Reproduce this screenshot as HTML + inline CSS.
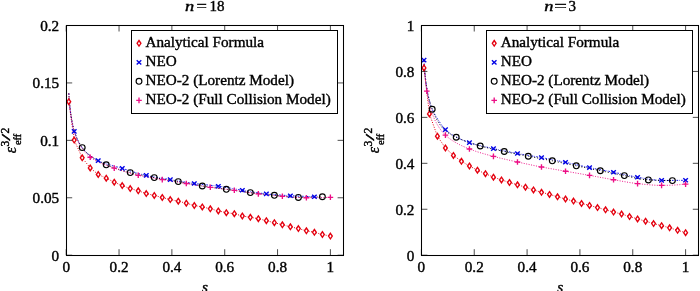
<!DOCTYPE html>
<html><head><meta charset="utf-8"><title>plot</title>
<style>html,body{margin:0;padding:0;background:#fff;}svg{display:block;}text{stroke:#000;stroke-width:.4px;}</style>
</head><body>
<svg width="700" height="291" viewBox="0 0 700 291" font-family="'Liberation Serif','Times New Roman',serif" fill="#000">
<rect width="700" height="291" fill="#fff"/>
<polyline points="68.79,101.7 74.21,140.1 82.21,157.8 90.22,167.9 98.22,174.5 106.23,178.2 114.24,182.2 122.24,185.6 130.25,188.6 138.25,190.8 146.26,193.6 154.27,195.4 162.27,197.5 170.28,199.6 178.28,201.2 186.29,203.2 194.3,205.5 202.3,206.9 210.31,208.8 218.32,210.9 226.32,212.7 234.33,213.7 242.33,216 250.34,217.3 258.35,218.7 266.35,220.7 274.36,222.7 282.36,224.8 290.37,226.8 298.38,228.6 306.38,230.8 314.39,232.3 322.39,234.5 330.4,236.1" fill="none" stroke="#e4000f" stroke-width="1.0" stroke-dasharray="1 1.5"/>
<polyline points="68.79,93.4 68.85,94.3 68.91,95.2 68.97,96.09 69.04,96.98 69.1,97.86 69.17,98.74 69.24,99.62 69.31,100.49 69.38,101.36 69.46,102.22 69.53,103.08 69.61,103.93 69.69,104.78 69.77,105.63 69.85,106.47 69.94,107.3 70.02,108.13 70.11,108.95 70.2,109.77 70.3,110.59 70.39,111.39 70.49,112.19 70.59,112.99 70.69,113.78 70.79,114.56 70.9,115.34 71.01,116.11 71.12,116.87 71.23,117.63 71.35,118.38 71.47,119.13 71.59,119.87 71.72,120.6 71.85,121.32 71.98,122.04 72.11,122.75 72.25,123.45 72.39,124.14 72.53,124.83 72.68,125.51 72.83,126.18 72.98,126.85 73.14,127.5 73.3,128.15 73.47,128.79 73.63,129.42 73.81,130.04 73.98,130.65 74.16,131.26 74.35,131.86 74.54,132.45 74.73,133.04 74.93,133.63 75.13,134.21 75.34,134.79 75.55,135.36 75.77,135.93 75.99,136.5 76.22,137.06 76.45,137.61 76.69,138.17 76.93,138.72 77.18,139.26 77.43,139.81 77.69,140.34 77.96,140.88 78.23,141.41 78.51,141.94 78.8,142.46 79.09,142.98 79.39,143.49 79.69,144 80.01,144.51 80.33,145.02 80.65,145.51 80.99,146.01 81.33,146.5 81.68,146.99 82.04,147.48 82.41,147.96 82.79,148.44 83.17,148.91 83.56,149.38 83.97,149.85 84.38,150.31 84.8,150.77 85.23,151.22 85.67,151.67 86.13,152.12 86.59,152.57 87.06,153.01 87.54,153.44 88.04,153.88 88.55,154.31 89.06,154.74 89.59,155.16 90.14,155.58 90.69,155.99 91.26,156.41 91.84,156.82 92.44,157.22 93.05,157.62 93.67,158.02 94.3,158.42 94.96,158.81 95.62,159.2 96.31,159.58 97,159.96 97.72,160.34 98.45,160.71 99.2,161.08 99.96,161.43 100.75,161.77 101.55,162.1 102.37,162.42 103.21,162.73 104.06,163.04 104.94,163.34 105.84,163.64 106.76,163.93 107.7,164.22 108.66,164.52 109.65,164.81 110.66,165.1 111.69,165.4 112.74,165.7 113.82,166 114.93,166.31 116.06,166.63 117.21,166.95 118.4,167.29 119.61,167.63 120.85,167.99 122.11,168.36 123.41,168.75 124.74,169.16 126.1,169.59 127.48,170.03 128.91,170.49 130.36,170.96 131.85,171.43 133.37,171.91 134.93,172.39 136.52,172.87 138.15,173.34 139.82,173.81 141.53,174.27 143.28,174.71 145.07,175.13 146.89,175.54 148.77,175.93 150.68,176.3 152.64,176.67 154.65,177.02 156.7,177.37 158.8,177.73 160.94,178.08 163.14,178.43 165.39,178.8 167.69,179.17 170.04,179.56 172.45,179.97 174.92,180.39 177.44,180.83 180.02,181.28 182.66,181.72 185.36,182.17 188.12,182.61 190.95,183.03 193.84,183.44 196.8,183.82 199.83,184.16 202.93,184.49 206.1,184.82 209.35,185.15 212.67,185.51 216.07,185.91 219.54,186.37 223.1,186.9 226.74,187.51 230.46,188.16 234.27,188.83 238.17,189.51 242.16,190.17 246.24,190.85 250.42,191.57 254.69,192.29 259.06,192.98 263.53,193.58 268.11,194.07 272.79,194.5 277.59,194.89 282.49,195.23 287.5,195.54 292.64,195.82 297.89,196.08 303.26,196.31 308.76,196.52 314.39,196.7" fill="none" stroke="#0000e6" stroke-width="0.95" stroke-dasharray="1.6 1.2 0.6 1.2"/>
<polyline points="68.79,93.4 68.85,94.25 68.91,95.1 68.97,95.95 69.04,96.79 69.11,97.62 69.17,98.46 69.24,99.28 69.31,100.11 69.39,100.93 69.46,101.74 69.54,102.55 69.62,103.36 69.7,104.16 69.78,104.96 69.86,105.75 69.95,106.54 70.03,107.32 70.12,108.1 70.21,108.88 70.31,109.65 70.4,110.42 70.5,111.18 70.6,111.94 70.71,112.7 70.81,113.45 70.92,114.2 71.03,114.94 71.14,115.68 71.26,116.41 71.38,117.14 71.5,117.86 71.62,118.58 71.75,119.3 71.88,120.01 72.01,120.72 72.14,121.42 72.28,122.12 72.43,122.82 72.57,123.51 72.72,124.2 72.87,124.88 73.03,125.56 73.19,126.23 73.35,126.9 73.52,127.56 73.69,128.23 73.86,128.88 74.04,129.53 74.23,130.18 74.41,130.83 74.61,131.47 74.8,132.1 75,132.73 75.21,133.36 75.42,133.98 75.63,134.6 75.85,135.21 76.08,135.82 76.31,136.43 76.55,137.03 76.79,137.63 77.04,138.22 77.29,138.81 77.55,139.39 77.81,139.97 78.08,140.55 78.36,141.12 78.65,141.69 78.94,142.25 79.23,142.81 79.54,143.36 79.85,143.91 80.17,144.46 80.49,145 80.83,145.54 81.17,146.07 81.52,146.6 81.88,147.12 82.24,147.64 82.62,148.16 83,148.67 83.39,149.17 83.8,149.66 84.21,150.15 84.63,150.63 85.06,151.11 85.5,151.58 85.95,152.04 86.41,152.5 86.88,152.96 87.37,153.41 87.86,153.86 88.37,154.3 88.88,154.74 89.41,155.17 89.96,155.6 90.51,156.03 91.08,156.45 91.66,156.87 92.25,157.29 92.86,157.7 93.49,158.11 94.12,158.52 94.77,158.93 95.44,159.34 96.13,159.74 96.82,160.15 97.54,160.55 98.27,160.95 99.02,161.35 99.79,161.75 100.57,162.15 101.37,162.55 102.2,162.95 103.04,163.35 103.9,163.75 104.78,164.15 105.68,164.56 106.6,164.96 107.54,165.36 108.51,165.76 109.5,166.16 110.51,166.55 111.55,166.94 112.6,167.33 113.69,167.72 114.8,168.1 115.93,168.48 117.09,168.87 118.28,169.25 119.5,169.62 120.74,170 122.02,170.38 123.32,170.75 124.66,171.13 126.02,171.5 127.42,171.87 128.85,172.24 130.31,172.62 131.81,172.99 133.34,173.35 134.91,173.71 136.51,174.08 138.16,174.43 139.84,174.79 141.56,175.15 143.32,175.51 145.12,175.87 146.96,176.23 148.85,176.59 150.78,176.95 152.75,177.32 154.78,177.69 156.85,178.06 158.96,178.42 161.13,178.79 163.35,179.15 165.62,179.52 167.94,179.89 170.31,180.27 172.75,180.67 175.23,181.08 177.78,181.51 180.39,181.97 183.05,182.47 185.78,182.99 188.58,183.53 191.44,184.08 194.36,184.63 197.35,185.17 200.42,185.7 203.55,186.19 206.76,186.67 210.04,187.13 213.4,187.58 216.84,188.04 220.36,188.5 223.96,188.98 227.65,189.48 231.42,190.01 235.28,190.56 239.22,191.12 243.27,191.68 247.4,192.23 251.63,192.76 255.96,193.28 260.4,193.8 264.93,194.31 269.57,194.81 274.32,195.3 279.19,195.83 284.16,196.42 289.25,196.95 294.46,197.31 299.79,197.4 305.25,197.37 310.83,197.27 316.55,197.06 322.39,196.7" fill="none" stroke="#000" stroke-width="0.95" stroke-dasharray="1.1 1.9"/>
<polyline points="68.79,93.6 68.85,94.49 68.91,95.37 68.98,96.25 69.04,97.12 69.11,97.99 69.18,98.86 69.25,99.72 69.32,100.57 69.39,101.42 69.47,102.26 69.54,103.1 69.62,103.93 69.7,104.76 69.78,105.59 69.87,106.41 69.96,107.22 70.04,108.03 70.13,108.84 70.23,109.64 70.32,110.43 70.42,111.22 70.52,112.01 70.62,112.79 70.72,113.56 70.83,114.33 70.94,115.1 71.05,115.86 71.16,116.62 71.28,117.37 71.4,118.12 71.52,118.86 71.65,119.6 71.78,120.33 71.91,121.06 72.04,121.78 72.18,122.5 72.32,123.21 72.46,123.92 72.61,124.62 72.76,125.32 72.91,126.02 73.07,126.71 73.23,127.4 73.4,128.08 73.57,128.75 73.74,129.42 73.92,130.09 74.1,130.75 74.29,131.41 74.48,132.07 74.67,132.71 74.87,133.36 75.07,134 75.28,134.63 75.5,135.26 75.72,135.89 75.94,136.51 76.17,137.13 76.4,137.74 76.64,138.35 76.89,138.95 77.14,139.55 77.4,140.14 77.66,140.73 77.93,141.32 78.21,141.9 78.49,142.47 78.78,143.05 79.07,143.61 79.38,144.18 79.69,144.73 80,145.29 80.33,145.84 80.66,146.38 81,146.92 81.35,147.46 81.7,147.99 82.07,148.52 82.44,149.04 82.82,149.56 83.21,150.08 83.61,150.59 84.02,151.09 84.44,151.59 84.87,152.09 85.31,152.58 85.76,153.07 86.22,153.55 86.69,154.03 87.17,154.51 87.67,154.98 88.17,155.45 88.69,155.91 89.22,156.37 89.76,156.82 90.31,157.27 90.88,157.71 91.46,158.14 92.05,158.56 92.66,158.97 93.28,159.36 93.92,159.75 94.57,160.13 95.24,160.5 95.92,160.87 96.62,161.23 97.34,161.58 98.07,161.93 98.82,162.27 99.58,162.62 100.37,162.96 101.17,163.29 101.99,163.63 102.84,163.97 103.7,164.3 104.58,164.64 105.48,164.98 106.41,165.32 107.35,165.67 108.32,166.02 109.31,166.37 110.32,166.73 111.36,167.09 112.42,167.47 113.51,167.85 114.62,168.23 115.76,168.63 116.93,169.04 118.12,169.45 119.34,169.87 120.59,170.29 121.87,170.71 123.18,171.14 124.52,171.57 125.89,172 127.29,172.42 128.73,172.85 130.2,173.27 131.7,173.68 133.25,174.09 134.82,174.49 136.44,174.88 138.09,175.26 139.78,175.63 141.51,175.99 143.28,176.34 145.09,176.68 146.95,177.02 148.84,177.35 150.79,177.69 152.78,178.02 154.81,178.36 156.9,178.71 159.03,179.06 161.21,179.42 163.45,179.8 165.73,180.18 168.07,180.56 170.47,180.96 172.92,181.36 175.43,181.76 178,182.18 180.63,182.6 183.32,183.03 186.07,183.47 188.89,183.92 191.78,184.39 194.73,184.88 197.75,185.38 200.85,185.88 204.01,186.37 207.25,186.86 210.57,187.34 213.97,187.79 217.44,188.22 221,188.65 224.64,189.08 228.36,189.53 232.18,190.02 236.08,190.54 240.07,191.15 244.16,191.81 248.35,192.48 252.63,193.13 257.01,193.74 261.5,194.27 266.09,194.79 270.8,195.29 275.61,195.74 280.53,196.16 285.57,196.55 290.73,196.96 296.01,197.34 301.41,197.61 306.94,197.7 312.61,197.69 318.4,197.65 324.33,197.53 330.4,197.3" fill="none" stroke="#ec0f86" stroke-width="0.95" stroke-dasharray="1 1.5"/>
<path d="M68.79 98.9L70.69 101.7L68.79 104.5L66.89 101.7Z" fill="#fff" stroke="#e4000f" stroke-width="1.35"/>
<path d="M74.21 137.3L76.11 140.1L74.21 142.9L72.31 140.1Z" fill="#fff" stroke="#e4000f" stroke-width="1.35"/>
<path d="M82.21 155L84.11 157.8L82.21 160.6L80.31 157.8Z" fill="#fff" stroke="#e4000f" stroke-width="1.35"/>
<path d="M90.22 165.1L92.12 167.9L90.22 170.7L88.32 167.9Z" fill="#fff" stroke="#e4000f" stroke-width="1.35"/>
<path d="M98.22 171.7L100.12 174.5L98.22 177.3L96.32 174.5Z" fill="#fff" stroke="#e4000f" stroke-width="1.35"/>
<path d="M106.23 175.4L108.13 178.2L106.23 181L104.33 178.2Z" fill="#fff" stroke="#e4000f" stroke-width="1.35"/>
<path d="M114.24 179.4L116.14 182.2L114.24 185L112.34 182.2Z" fill="#fff" stroke="#e4000f" stroke-width="1.35"/>
<path d="M122.24 182.8L124.14 185.6L122.24 188.4L120.34 185.6Z" fill="#fff" stroke="#e4000f" stroke-width="1.35"/>
<path d="M130.25 185.8L132.15 188.6L130.25 191.4L128.35 188.6Z" fill="#fff" stroke="#e4000f" stroke-width="1.35"/>
<path d="M138.25 188L140.15 190.8L138.25 193.6L136.35 190.8Z" fill="#fff" stroke="#e4000f" stroke-width="1.35"/>
<path d="M146.26 190.8L148.16 193.6L146.26 196.4L144.36 193.6Z" fill="#fff" stroke="#e4000f" stroke-width="1.35"/>
<path d="M154.27 192.6L156.17 195.4L154.27 198.2L152.37 195.4Z" fill="#fff" stroke="#e4000f" stroke-width="1.35"/>
<path d="M162.27 194.7L164.17 197.5L162.27 200.3L160.37 197.5Z" fill="#fff" stroke="#e4000f" stroke-width="1.35"/>
<path d="M170.28 196.8L172.18 199.6L170.28 202.4L168.38 199.6Z" fill="#fff" stroke="#e4000f" stroke-width="1.35"/>
<path d="M178.28 198.4L180.18 201.2L178.28 204L176.38 201.2Z" fill="#fff" stroke="#e4000f" stroke-width="1.35"/>
<path d="M186.29 200.4L188.19 203.2L186.29 206L184.39 203.2Z" fill="#fff" stroke="#e4000f" stroke-width="1.35"/>
<path d="M194.3 202.7L196.2 205.5L194.3 208.3L192.4 205.5Z" fill="#fff" stroke="#e4000f" stroke-width="1.35"/>
<path d="M202.3 204.1L204.2 206.9L202.3 209.7L200.4 206.9Z" fill="#fff" stroke="#e4000f" stroke-width="1.35"/>
<path d="M210.31 206L212.21 208.8L210.31 211.6L208.41 208.8Z" fill="#fff" stroke="#e4000f" stroke-width="1.35"/>
<path d="M218.32 208.1L220.22 210.9L218.32 213.7L216.42 210.9Z" fill="#fff" stroke="#e4000f" stroke-width="1.35"/>
<path d="M226.32 209.9L228.22 212.7L226.32 215.5L224.42 212.7Z" fill="#fff" stroke="#e4000f" stroke-width="1.35"/>
<path d="M234.33 210.9L236.23 213.7L234.33 216.5L232.43 213.7Z" fill="#fff" stroke="#e4000f" stroke-width="1.35"/>
<path d="M242.33 213.2L244.23 216L242.33 218.8L240.43 216Z" fill="#fff" stroke="#e4000f" stroke-width="1.35"/>
<path d="M250.34 214.5L252.24 217.3L250.34 220.1L248.44 217.3Z" fill="#fff" stroke="#e4000f" stroke-width="1.35"/>
<path d="M258.35 215.9L260.25 218.7L258.35 221.5L256.45 218.7Z" fill="#fff" stroke="#e4000f" stroke-width="1.35"/>
<path d="M266.35 217.9L268.25 220.7L266.35 223.5L264.45 220.7Z" fill="#fff" stroke="#e4000f" stroke-width="1.35"/>
<path d="M274.36 219.9L276.26 222.7L274.36 225.5L272.46 222.7Z" fill="#fff" stroke="#e4000f" stroke-width="1.35"/>
<path d="M282.36 222L284.26 224.8L282.36 227.6L280.46 224.8Z" fill="#fff" stroke="#e4000f" stroke-width="1.35"/>
<path d="M290.37 224L292.27 226.8L290.37 229.6L288.47 226.8Z" fill="#fff" stroke="#e4000f" stroke-width="1.35"/>
<path d="M298.38 225.8L300.28 228.6L298.38 231.4L296.48 228.6Z" fill="#fff" stroke="#e4000f" stroke-width="1.35"/>
<path d="M306.38 228L308.28 230.8L306.38 233.6L304.48 230.8Z" fill="#fff" stroke="#e4000f" stroke-width="1.35"/>
<path d="M314.39 229.5L316.29 232.3L314.39 235.1L312.49 232.3Z" fill="#fff" stroke="#e4000f" stroke-width="1.35"/>
<path d="M322.39 231.7L324.29 234.5L322.39 237.3L320.49 234.5Z" fill="#fff" stroke="#e4000f" stroke-width="1.35"/>
<path d="M330.4 233.3L332.3 236.1L330.4 238.9L328.5 236.1Z" fill="#fff" stroke="#e4000f" stroke-width="1.35"/>
<path d="M71.91 129.35L76.51 133.45M71.91 133.45L76.51 129.35" stroke="#0000e6" stroke-width="1.4" fill="none"/>
<path d="M95.92 158.55L100.52 162.65M95.92 162.65L100.52 158.55" stroke="#0000e6" stroke-width="1.4" fill="none"/>
<path d="M119.94 166.35L124.54 170.45M119.94 170.45L124.54 166.35" stroke="#0000e6" stroke-width="1.4" fill="none"/>
<path d="M143.96 173.35L148.56 177.45M143.96 177.45L148.56 173.35" stroke="#0000e6" stroke-width="1.4" fill="none"/>
<path d="M167.98 177.55L172.58 181.65M167.98 181.65L172.58 177.55" stroke="#0000e6" stroke-width="1.4" fill="none"/>
<path d="M192 181.45L196.6 185.55M192 185.55L196.6 181.45" stroke="#0000e6" stroke-width="1.4" fill="none"/>
<path d="M216.02 184.15L220.62 188.25M216.02 188.25L220.62 184.15" stroke="#0000e6" stroke-width="1.4" fill="none"/>
<path d="M240.03 188.15L244.63 192.25M240.03 192.25L244.63 188.15" stroke="#0000e6" stroke-width="1.4" fill="none"/>
<path d="M264.05 191.85L268.65 195.95M264.05 195.95L268.65 191.85" stroke="#0000e6" stroke-width="1.4" fill="none"/>
<path d="M288.07 193.65L292.67 197.75M288.07 197.75L292.67 193.65" stroke="#0000e6" stroke-width="1.4" fill="none"/>
<path d="M312.09 194.65L316.69 198.75M312.09 198.75L316.69 194.65" stroke="#0000e6" stroke-width="1.4" fill="none"/>
<circle cx="82.21" cy="147.6" r="2.9" fill="none" stroke="#000" stroke-width="1.15"/>
<circle cx="106.23" cy="164.8" r="2.9" fill="none" stroke="#000" stroke-width="1.15"/>
<circle cx="130.25" cy="172.6" r="2.9" fill="none" stroke="#000" stroke-width="1.15"/>
<circle cx="154.27" cy="177.6" r="2.9" fill="none" stroke="#000" stroke-width="1.15"/>
<circle cx="178.28" cy="181.6" r="2.9" fill="none" stroke="#000" stroke-width="1.15"/>
<circle cx="202.3" cy="186" r="2.9" fill="none" stroke="#000" stroke-width="1.15"/>
<circle cx="226.32" cy="189.3" r="2.9" fill="none" stroke="#000" stroke-width="1.15"/>
<circle cx="250.34" cy="192.6" r="2.9" fill="none" stroke="#000" stroke-width="1.15"/>
<circle cx="274.36" cy="195.3" r="2.9" fill="none" stroke="#000" stroke-width="1.15"/>
<circle cx="298.38" cy="197.4" r="2.9" fill="none" stroke="#000" stroke-width="1.15"/>
<circle cx="322.39" cy="196.7" r="2.9" fill="none" stroke="#000" stroke-width="1.15"/>
<path d="M87.42 157.2L93.02 157.2M90.22 154.4L90.22 160" stroke="#ec0f86" stroke-width="1.35" fill="none"/>
<path d="M111.44 168.1L117.04 168.1M114.24 165.3L114.24 170.9" stroke="#ec0f86" stroke-width="1.35" fill="none"/>
<path d="M135.45 175.3L141.05 175.3M138.25 172.5L138.25 178.1" stroke="#ec0f86" stroke-width="1.35" fill="none"/>
<path d="M159.47 179.6L165.07 179.6M162.27 176.8L162.27 182.4" stroke="#ec0f86" stroke-width="1.35" fill="none"/>
<path d="M183.49 183.5L189.09 183.5M186.29 180.7L186.29 186.3" stroke="#ec0f86" stroke-width="1.35" fill="none"/>
<path d="M207.51 187.3L213.11 187.3M210.31 184.5L210.31 190.1" stroke="#ec0f86" stroke-width="1.35" fill="none"/>
<path d="M231.53 190.3L237.13 190.3M234.33 187.5L234.33 193.1" stroke="#ec0f86" stroke-width="1.35" fill="none"/>
<path d="M255.55 193.9L261.15 193.9M258.35 191.1L258.35 196.7" stroke="#ec0f86" stroke-width="1.35" fill="none"/>
<path d="M279.56 196.3L285.16 196.3M282.36 193.5L282.36 199.1" stroke="#ec0f86" stroke-width="1.35" fill="none"/>
<path d="M303.58 197.7L309.18 197.7M306.38 194.9L306.38 200.5" stroke="#ec0f86" stroke-width="1.35" fill="none"/>
<path d="M327.6 197.3L333.2 197.3M330.4 194.5L330.4 200.1" stroke="#ec0f86" stroke-width="1.35" fill="none"/>
<rect x="66.5" y="25.5" width="277" height="230" fill="none" stroke="#000" stroke-width="1.05"/>
<path d="M66.2 255.2V249.2M66.2 25.5V31.5M119.04 255.2V249.2M119.04 25.5V31.5M171.88 255.2V249.2M171.88 25.5V31.5M224.72 255.2V249.2M224.72 25.5V31.5M277.56 255.2V249.2M277.56 25.5V31.5M330.4 255.2V249.2M330.4 25.5V31.5M66.2 255.2H72.2M343.6 255.2H337.6M66.2 197.77H72.2M343.6 197.77H337.6M66.2 140.35H72.2M343.6 140.35H337.6M66.2 82.93H72.2M343.6 82.93H337.6M66.2 25.5H72.2M343.6 25.5H337.6" stroke="#000" stroke-width="0.7" fill="none"/>
<text x="66.2" y="272" font-size="15.2" text-anchor="middle">0</text>
<text x="119.04" y="272" font-size="15.2" text-anchor="middle">0.2</text>
<text x="171.88" y="272" font-size="15.2" text-anchor="middle">0.4</text>
<text x="224.72" y="272" font-size="15.2" text-anchor="middle">0.6</text>
<text x="277.56" y="272" font-size="15.2" text-anchor="middle">0.8</text>
<text x="330.4" y="272" font-size="15.2" text-anchor="middle">1</text>
<text x="59.2" y="260.6" font-size="15.2" text-anchor="end">0</text>
<text x="59.2" y="203.17" font-size="15.2" text-anchor="end">0.05</text>
<text x="59.2" y="145.75" font-size="15.2" text-anchor="end">0.1</text>
<text x="59.2" y="88.33" font-size="15.2" text-anchor="end">0.15</text>
<text x="59.2" y="30.9" font-size="15.2" text-anchor="end">0.2</text>
<text x="204.9" y="291.5" font-size="15.2" text-anchor="middle" font-style="italic">s</text>
<g transform="translate(15.8,153) rotate(-90)">
<text x="-0.2" y="0" font-size="16" font-style="italic">&#949;</text>
<text x="6.4" y="-6.8" font-size="11.5">3</text>
<text x="12.2" y="-5.6" font-size="13" textLength="7" lengthAdjust="spacingAndGlyphs">/</text>
<text x="19.6" y="-6.8" font-size="11.5">2</text>
<text x="7.9" y="5.1" font-size="10.3">eff</text>
</g>
<text x="185" y="10.5" font-size="15" font-style="italic" textLength="9.2" lengthAdjust="spacingAndGlyphs">n</text>
<text x="196.4" y="10.5" font-size="15" textLength="10.4" lengthAdjust="spacingAndGlyphs">=</text>
<text x="209.4" y="10.5" font-size="15" textLength="15" lengthAdjust="spacingAndGlyphs">18</text>
<rect x="131.5" y="30.5" width="206" height="83" fill="#fff" stroke="#000" stroke-width="1"/>
<path d="M139 40.5L140.9 43.3L139 46.1L137.1 43.3Z" fill="#fff" stroke="#e4000f" stroke-width="1.35"/>
<path d="M136.7 60.35L141.3 64.45M136.7 64.45L141.3 60.35" stroke="#0000e6" stroke-width="1.4" fill="none"/>
<circle cx="139" cy="81.3" r="2.9" fill="none" stroke="#000" stroke-width="1.15"/>
<path d="M136.2 100.4L141.8 100.4M139 97.6L139 103.2" stroke="#ec0f86" stroke-width="1.35" fill="none"/>
<text x="145.5" y="47" font-size="15.2" text-anchor="start">Analytical Formula</text>
<text x="145.5" y="65.9" font-size="15.2" text-anchor="start">NEO</text>
<text x="145.5" y="85.2" font-size="15.2" text-anchor="start">NEO-2 (Lorentz Model)</text>
<text x="145.5" y="104.2" font-size="15.2" text-anchor="start">NEO-2 (Full Collision Model)</text>
<polyline points="423.99,67.9 429.41,113.9 437.41,136.2 445.42,148 453.42,155.4 461.43,161.3 469.44,166 477.44,170.2 485.45,173.7 493.45,177.2 501.46,179.9 509.47,182.5 517.47,184.8 525.48,187.2 533.48,189.9 541.49,192.3 549.5,194.4 557.5,196.8 565.51,199 573.52,201.1 581.52,203.5 589.53,205.4 597.53,207.6 605.54,209.8 613.55,212.1 621.55,214 629.56,216.6 637.56,218.9 645.57,221.2 653.58,223.6 661.58,225.7 669.59,227.8 677.59,230.3 685.6,232.7" fill="none" stroke="#e4000f" stroke-width="1.0" stroke-dasharray="1 1.5"/>
<polyline points="423.99,60.1 424.05,61.08 424.11,62.05 424.18,63.01 424.24,63.97 424.31,64.92 424.38,65.87 424.45,66.81 424.52,67.75 424.59,68.68 424.67,69.61 424.74,70.52 424.82,71.44 424.9,72.34 424.98,73.24 425.07,74.14 425.16,75.03 425.24,75.91 425.33,76.79 425.43,77.66 425.52,78.52 425.62,79.37 425.72,80.23 425.82,81.07 425.92,81.91 426.03,82.74 426.14,83.56 426.25,84.38 426.36,85.19 426.48,85.99 426.6,86.79 426.72,87.57 426.85,88.36 426.98,89.13 427.11,89.9 427.24,90.67 427.38,91.43 427.52,92.18 427.66,92.93 427.81,93.67 427.96,94.41 428.11,95.14 428.27,95.86 428.43,96.59 428.6,97.3 428.77,98.01 428.94,98.72 429.12,99.42 429.3,100.11 429.49,100.8 429.68,101.49 429.87,102.16 430.07,102.84 430.27,103.51 430.48,104.18 430.7,104.84 430.92,105.49 431.14,106.14 431.37,106.79 431.6,107.43 431.84,108.07 432.09,108.7 432.34,109.33 432.6,109.95 432.86,110.55 433.13,111.15 433.41,111.73 433.69,112.31 433.98,112.88 434.27,113.45 434.58,114.01 434.89,114.57 435.2,115.13 435.53,115.68 435.86,116.24 436.2,116.8 436.55,117.36 436.9,117.93 437.27,118.5 437.64,119.08 438.02,119.66 438.41,120.26 438.81,120.87 439.22,121.49 439.64,122.13 440.07,122.79 440.51,123.45 440.96,124.11 441.42,124.78 441.89,125.44 442.37,126.1 442.87,126.75 443.37,127.38 443.89,127.99 444.42,128.58 444.96,129.15 445.51,129.69 446.08,130.21 446.66,130.72 447.25,131.23 447.86,131.72 448.48,132.21 449.12,132.7 449.77,133.17 450.44,133.64 451.12,134.1 451.82,134.56 452.54,135.01 453.27,135.45 454.02,135.89 454.78,136.32 455.57,136.75 456.37,137.18 457.19,137.6 458.04,138.01 458.9,138.42 459.78,138.83 460.68,139.23 461.61,139.63 462.55,140.03 463.52,140.42 464.51,140.81 465.52,141.2 466.56,141.58 467.62,141.97 468.71,142.35 469.82,142.73 470.96,143.1 472.13,143.46 473.32,143.82 474.54,144.16 475.79,144.5 477.07,144.84 478.38,145.17 479.72,145.5 481.09,145.83 482.49,146.16 483.93,146.49 485.4,146.82 486.9,147.16 488.45,147.5 490.02,147.84 491.64,148.2 493.29,148.56 494.98,148.93 496.71,149.31 498.48,149.7 500.29,150.08 502.15,150.47 504.04,150.87 505.99,151.27 507.98,151.67 510.01,152.08 512.1,152.48 514.23,152.89 516.41,153.3 518.65,153.71 520.93,154.12 523.27,154.52 525.67,154.92 528.12,155.33 530.63,155.74 533.2,156.17 535.83,156.61 538.52,157.07 541.27,157.56 544.09,158.07 546.98,158.61 549.93,159.18 552.95,159.77 556.05,160.38 559.21,161.02 562.45,161.67 565.77,162.35 569.17,163.08 572.64,163.85 576.2,164.66 579.84,165.49 583.56,166.33 587.38,167.15 591.28,167.95 595.27,168.73 599.36,169.51 603.55,170.29 607.83,171.09 612.21,171.94 616.7,172.85 621.29,173.87 626,174.92 630.81,175.95 635.73,176.89 640.77,177.75 645.93,178.7 651.21,179.56 656.61,180.19 662.14,180.4 667.81,180.4 673.6,180.39 679.53,180.36 685.6,180.3" fill="none" stroke="#0000e6" stroke-width="0.95" stroke-dasharray="1.6 1.2 0.6 1.2"/>
<polyline points="423.99,61 424.05,61.95 424.11,62.89 424.17,63.83 424.24,64.77 424.3,65.69 424.37,66.62 424.44,67.54 424.51,68.45 424.58,69.35 424.66,70.26 424.73,71.15 424.81,72.04 424.89,72.93 424.97,73.8 425.06,74.68 425.14,75.54 425.23,76.4 425.32,77.26 425.41,78.11 425.5,78.95 425.6,79.79 425.69,80.62 425.79,81.44 425.9,82.26 426,83.07 426.11,83.88 426.22,84.68 426.33,85.47 426.44,86.26 426.56,87.04 426.68,87.81 426.8,88.58 426.93,89.34 427.06,90.09 427.19,90.84 427.32,91.57 427.46,92.3 427.6,93.03 427.75,93.75 427.89,94.46 428.04,95.17 428.2,95.87 428.36,96.56 428.52,97.26 428.68,97.94 428.85,98.63 429.03,99.31 429.2,99.98 429.39,100.65 429.57,101.32 429.76,101.99 429.96,102.65 430.15,103.31 430.36,103.97 430.57,104.63 430.78,105.28 431,105.94 431.22,106.59 431.45,107.24 431.68,107.89 431.92,108.54 432.17,109.2 432.42,109.85 432.67,110.51 432.93,111.17 433.2,111.83 433.48,112.5 433.76,113.17 434.05,113.84 434.34,114.51 434.64,115.18 434.95,115.85 435.26,116.52 435.59,117.19 435.92,117.86 436.25,118.52 436.6,119.18 436.95,119.84 437.31,120.49 437.68,121.14 438.06,121.78 438.45,122.42 438.85,123.05 439.25,123.67 439.67,124.29 440.09,124.89 440.53,125.49 440.97,126.08 441.43,126.66 441.89,127.22 442.37,127.78 442.86,128.32 443.35,128.85 443.86,129.37 444.39,129.88 444.92,130.37 445.47,130.84 446.03,131.3 446.6,131.75 447.19,132.18 447.79,132.59 448.4,133 449.03,133.4 449.67,133.78 450.33,134.16 451,134.54 451.69,134.91 452.39,135.29 453.11,135.66 453.85,136.03 454.6,136.41 455.38,136.79 456.17,137.17 456.98,137.56 457.8,137.95 458.65,138.34 459.52,138.73 460.4,139.12 461.31,139.51 462.24,139.9 463.19,140.29 464.16,140.68 465.15,141.07 466.17,141.45 467.21,141.84 468.27,142.23 469.36,142.61 470.48,143 471.62,143.38 472.79,143.76 473.98,144.14 475.21,144.53 476.46,144.91 477.74,145.29 479.05,145.66 480.39,146.04 481.76,146.41 483.16,146.78 484.6,147.15 486.07,147.51 487.57,147.87 489.11,148.23 490.68,148.59 492.3,148.95 493.94,149.32 495.63,149.68 497.36,150.05 499.12,150.43 500.93,150.81 502.78,151.19 504.67,151.59 506.61,151.98 508.59,152.38 510.62,152.79 512.69,153.2 514.81,153.61 516.99,154.03 519.21,154.46 521.48,154.9 523.81,155.35 526.19,155.8 528.63,156.27 531.12,156.74 533.67,157.23 536.28,157.72 538.95,158.23 541.69,158.75 544.48,159.28 547.34,159.83 550.27,160.4 553.27,160.99 556.34,161.61 559.47,162.26 562.68,162.94 565.97,163.63 569.33,164.35 572.77,165.07 576.29,165.79 579.89,166.53 583.58,167.29 587.35,168.06 591.21,168.84 595.15,169.65 599.19,170.47 603.33,171.31 607.56,172.19 611.89,173.1 616.32,174.01 620.85,174.92 625.48,175.82 630.23,176.85 635.09,177.93 640.05,178.91 645.14,179.64 650.34,180 655.66,180.24 661.11,180.43 666.68,180.55 672.39,180.6" fill="none" stroke="#000" stroke-width="0.95" stroke-dasharray="1.1 1.9"/>
<polyline points="423.99,64 424.05,64.91 424.11,65.83 424.18,66.73 424.24,67.64 424.31,68.54 424.38,69.44 424.45,70.33 424.52,71.22 424.59,72.11 424.67,73 424.74,73.88 424.82,74.75 424.9,75.63 424.98,76.5 425.07,77.36 425.16,78.23 425.24,79.09 425.33,79.94 425.43,80.79 425.52,81.64 425.62,82.48 425.72,83.32 425.82,84.15 425.92,84.98 426.03,85.81 426.14,86.63 426.25,87.45 426.36,88.26 426.48,89.07 426.6,89.87 426.72,90.67 426.85,91.46 426.98,92.25 427.11,93.04 427.24,93.83 427.38,94.61 427.52,95.39 427.66,96.17 427.81,96.95 427.96,97.72 428.11,98.49 428.27,99.25 428.43,100.02 428.6,100.78 428.77,101.53 428.94,102.29 429.12,103.04 429.3,103.78 429.49,104.53 429.68,105.27 429.87,106.01 430.07,106.74 430.27,107.47 430.48,108.2 430.7,108.92 430.92,109.64 431.14,110.35 431.37,111.06 431.6,111.77 431.84,112.48 432.09,113.18 432.34,113.87 432.6,114.56 432.86,115.25 433.13,115.94 433.41,116.62 433.69,117.29 433.98,117.96 434.27,118.63 434.58,119.3 434.89,119.96 435.2,120.62 435.53,121.28 435.86,121.94 436.2,122.59 436.55,123.24 436.9,123.88 437.27,124.53 437.64,125.17 438.02,125.8 438.41,126.43 438.81,127.06 439.22,127.68 439.64,128.29 440.07,128.9 440.51,129.51 440.96,130.11 441.42,130.7 441.89,131.29 442.37,131.87 442.87,132.44 443.37,133 443.89,133.56 444.42,134.11 444.96,134.65 445.51,135.19 446.08,135.71 446.66,136.23 447.25,136.75 447.86,137.25 448.48,137.76 449.12,138.25 449.77,138.74 450.44,139.22 451.12,139.7 451.82,140.18 452.54,140.65 453.27,141.12 454.02,141.58 454.78,142.04 455.57,142.5 456.37,142.95 457.19,143.4 458.04,143.85 458.9,144.3 459.78,144.74 460.68,145.19 461.61,145.63 462.55,146.07 463.52,146.51 464.51,146.95 465.52,147.39 466.56,147.83 467.62,148.27 468.71,148.71 469.82,149.15 470.96,149.59 472.13,150.02 473.32,150.45 474.54,150.88 475.79,151.3 477.07,151.72 478.38,152.13 479.72,152.55 481.09,152.97 482.49,153.38 483.93,153.8 485.4,154.22 486.9,154.64 488.45,155.06 490.02,155.49 491.64,155.92 493.29,156.36 494.98,156.79 496.71,157.23 498.48,157.67 500.29,158.11 502.15,158.55 504.04,159 505.99,159.45 507.98,159.9 510.01,160.36 512.1,160.82 514.23,161.29 516.41,161.77 518.65,162.26 520.93,162.75 523.27,163.26 525.67,163.78 528.12,164.3 530.63,164.83 533.2,165.36 535.83,165.9 538.52,166.43 541.27,166.96 544.09,167.48 546.98,168 549.93,168.52 552.95,169.05 556.05,169.58 559.21,170.12 562.45,170.67 565.77,171.25 569.17,171.84 572.64,172.44 576.2,173.06 579.84,173.7 583.56,174.35 587.38,175.02 591.28,175.71 595.27,176.43 599.36,177.18 603.55,177.94 607.83,178.71 612.21,179.47 616.7,180.25 621.29,181.1 626,181.94 630.81,182.73 635.73,183.4 640.77,183.94 645.93,184.48 651.21,184.96 656.61,185.29 662.14,185.4 667.81,185.31 673.6,185.07 679.53,184.67 685.6,184.1" fill="none" stroke="#ec0f86" stroke-width="0.95" stroke-dasharray="1 1.5"/>
<path d="M423.99 65.1L425.89 67.9L423.99 70.7L422.09 67.9Z" fill="#fff" stroke="#e4000f" stroke-width="1.35"/>
<path d="M429.41 111.1L431.31 113.9L429.41 116.7L427.51 113.9Z" fill="#fff" stroke="#e4000f" stroke-width="1.35"/>
<path d="M437.41 133.4L439.31 136.2L437.41 139L435.51 136.2Z" fill="#fff" stroke="#e4000f" stroke-width="1.35"/>
<path d="M445.42 145.2L447.32 148L445.42 150.8L443.52 148Z" fill="#fff" stroke="#e4000f" stroke-width="1.35"/>
<path d="M453.42 152.6L455.32 155.4L453.42 158.2L451.52 155.4Z" fill="#fff" stroke="#e4000f" stroke-width="1.35"/>
<path d="M461.43 158.5L463.33 161.3L461.43 164.1L459.53 161.3Z" fill="#fff" stroke="#e4000f" stroke-width="1.35"/>
<path d="M469.44 163.2L471.34 166L469.44 168.8L467.54 166Z" fill="#fff" stroke="#e4000f" stroke-width="1.35"/>
<path d="M477.44 167.4L479.34 170.2L477.44 173L475.54 170.2Z" fill="#fff" stroke="#e4000f" stroke-width="1.35"/>
<path d="M485.45 170.9L487.35 173.7L485.45 176.5L483.55 173.7Z" fill="#fff" stroke="#e4000f" stroke-width="1.35"/>
<path d="M493.45 174.4L495.35 177.2L493.45 180L491.55 177.2Z" fill="#fff" stroke="#e4000f" stroke-width="1.35"/>
<path d="M501.46 177.1L503.36 179.9L501.46 182.7L499.56 179.9Z" fill="#fff" stroke="#e4000f" stroke-width="1.35"/>
<path d="M509.47 179.7L511.37 182.5L509.47 185.3L507.57 182.5Z" fill="#fff" stroke="#e4000f" stroke-width="1.35"/>
<path d="M517.47 182L519.37 184.8L517.47 187.6L515.57 184.8Z" fill="#fff" stroke="#e4000f" stroke-width="1.35"/>
<path d="M525.48 184.4L527.38 187.2L525.48 190L523.58 187.2Z" fill="#fff" stroke="#e4000f" stroke-width="1.35"/>
<path d="M533.48 187.1L535.38 189.9L533.48 192.7L531.58 189.9Z" fill="#fff" stroke="#e4000f" stroke-width="1.35"/>
<path d="M541.49 189.5L543.39 192.3L541.49 195.1L539.59 192.3Z" fill="#fff" stroke="#e4000f" stroke-width="1.35"/>
<path d="M549.5 191.6L551.4 194.4L549.5 197.2L547.6 194.4Z" fill="#fff" stroke="#e4000f" stroke-width="1.35"/>
<path d="M557.5 194L559.4 196.8L557.5 199.6L555.6 196.8Z" fill="#fff" stroke="#e4000f" stroke-width="1.35"/>
<path d="M565.51 196.2L567.41 199L565.51 201.8L563.61 199Z" fill="#fff" stroke="#e4000f" stroke-width="1.35"/>
<path d="M573.52 198.3L575.42 201.1L573.52 203.9L571.62 201.1Z" fill="#fff" stroke="#e4000f" stroke-width="1.35"/>
<path d="M581.52 200.7L583.42 203.5L581.52 206.3L579.62 203.5Z" fill="#fff" stroke="#e4000f" stroke-width="1.35"/>
<path d="M589.53 202.6L591.43 205.4L589.53 208.2L587.63 205.4Z" fill="#fff" stroke="#e4000f" stroke-width="1.35"/>
<path d="M597.53 204.8L599.43 207.6L597.53 210.4L595.63 207.6Z" fill="#fff" stroke="#e4000f" stroke-width="1.35"/>
<path d="M605.54 207L607.44 209.8L605.54 212.6L603.64 209.8Z" fill="#fff" stroke="#e4000f" stroke-width="1.35"/>
<path d="M613.55 209.3L615.45 212.1L613.55 214.9L611.65 212.1Z" fill="#fff" stroke="#e4000f" stroke-width="1.35"/>
<path d="M621.55 211.2L623.45 214L621.55 216.8L619.65 214Z" fill="#fff" stroke="#e4000f" stroke-width="1.35"/>
<path d="M629.56 213.8L631.46 216.6L629.56 219.4L627.66 216.6Z" fill="#fff" stroke="#e4000f" stroke-width="1.35"/>
<path d="M637.56 216.1L639.46 218.9L637.56 221.7L635.66 218.9Z" fill="#fff" stroke="#e4000f" stroke-width="1.35"/>
<path d="M645.57 218.4L647.47 221.2L645.57 224L643.67 221.2Z" fill="#fff" stroke="#e4000f" stroke-width="1.35"/>
<path d="M653.58 220.8L655.48 223.6L653.58 226.4L651.68 223.6Z" fill="#fff" stroke="#e4000f" stroke-width="1.35"/>
<path d="M661.58 222.9L663.48 225.7L661.58 228.5L659.68 225.7Z" fill="#fff" stroke="#e4000f" stroke-width="1.35"/>
<path d="M669.59 225L671.49 227.8L669.59 230.6L667.69 227.8Z" fill="#fff" stroke="#e4000f" stroke-width="1.35"/>
<path d="M677.59 227.5L679.49 230.3L677.59 233.1L675.69 230.3Z" fill="#fff" stroke="#e4000f" stroke-width="1.35"/>
<path d="M685.6 229.9L687.5 232.7L685.6 235.5L683.7 232.7Z" fill="#fff" stroke="#e4000f" stroke-width="1.35"/>
<path d="M421.69 58.05L426.29 62.15M421.69 62.15L426.29 58.05" stroke="#0000e6" stroke-width="1.4" fill="none"/>
<path d="M443.12 127.55L447.72 131.65M443.12 131.65L447.72 127.55" stroke="#0000e6" stroke-width="1.4" fill="none"/>
<path d="M467.14 140.55L471.74 144.65M467.14 144.65L471.74 140.55" stroke="#0000e6" stroke-width="1.4" fill="none"/>
<path d="M491.15 146.55L495.75 150.65M491.15 150.65L495.75 146.55" stroke="#0000e6" stroke-width="1.4" fill="none"/>
<path d="M515.17 151.45L519.77 155.55M515.17 155.55L519.77 151.45" stroke="#0000e6" stroke-width="1.4" fill="none"/>
<path d="M539.19 155.55L543.79 159.65M539.19 159.65L543.79 155.55" stroke="#0000e6" stroke-width="1.4" fill="none"/>
<path d="M563.21 160.25L567.81 164.35M563.21 164.35L567.81 160.25" stroke="#0000e6" stroke-width="1.4" fill="none"/>
<path d="M587.23 165.55L591.83 169.65M587.23 169.65L591.83 165.55" stroke="#0000e6" stroke-width="1.4" fill="none"/>
<path d="M611.25 170.15L615.85 174.25M611.25 174.25L615.85 170.15" stroke="#0000e6" stroke-width="1.4" fill="none"/>
<path d="M635.26 175.15L639.86 179.25M635.26 179.25L639.86 175.15" stroke="#0000e6" stroke-width="1.4" fill="none"/>
<path d="M659.28 178.35L663.88 182.45M659.28 182.45L663.88 178.35" stroke="#0000e6" stroke-width="1.4" fill="none"/>
<path d="M683.3 178.25L687.9 182.35M683.3 182.35L687.9 178.25" stroke="#0000e6" stroke-width="1.4" fill="none"/>
<circle cx="432.21" cy="109.3" r="2.9" fill="none" stroke="#000" stroke-width="1.15"/>
<circle cx="456.22" cy="137.2" r="2.9" fill="none" stroke="#000" stroke-width="1.15"/>
<circle cx="480.24" cy="146" r="2.9" fill="none" stroke="#000" stroke-width="1.15"/>
<circle cx="504.26" cy="151.5" r="2.9" fill="none" stroke="#000" stroke-width="1.15"/>
<circle cx="528.28" cy="156.2" r="2.9" fill="none" stroke="#000" stroke-width="1.15"/>
<circle cx="552.3" cy="160.8" r="2.9" fill="none" stroke="#000" stroke-width="1.15"/>
<circle cx="576.31" cy="165.8" r="2.9" fill="none" stroke="#000" stroke-width="1.15"/>
<circle cx="600.33" cy="170.7" r="2.9" fill="none" stroke="#000" stroke-width="1.15"/>
<circle cx="624.35" cy="175.6" r="2.9" fill="none" stroke="#000" stroke-width="1.15"/>
<circle cx="648.37" cy="179.9" r="2.9" fill="none" stroke="#000" stroke-width="1.15"/>
<circle cx="672.39" cy="180.6" r="2.9" fill="none" stroke="#000" stroke-width="1.15"/>
<path d="M423.99 91.1L429.59 91.1M426.79 88.3L426.79 93.9" stroke="#ec0f86" stroke-width="1.35" fill="none"/>
<path d="M442.62 135.1L448.22 135.1M445.42 132.3L445.42 137.9" stroke="#ec0f86" stroke-width="1.35" fill="none"/>
<path d="M466.64 149L472.24 149M469.44 146.2L469.44 151.8" stroke="#ec0f86" stroke-width="1.35" fill="none"/>
<path d="M490.65 156.4L496.25 156.4M493.45 153.6L493.45 159.2" stroke="#ec0f86" stroke-width="1.35" fill="none"/>
<path d="M514.67 162L520.27 162M517.47 159.2L517.47 164.8" stroke="#ec0f86" stroke-width="1.35" fill="none"/>
<path d="M538.69 167L544.29 167M541.49 164.2L541.49 169.8" stroke="#ec0f86" stroke-width="1.35" fill="none"/>
<path d="M562.71 171.2L568.31 171.2M565.51 168.4L565.51 174" stroke="#ec0f86" stroke-width="1.35" fill="none"/>
<path d="M586.73 175.4L592.33 175.4M589.53 172.6L589.53 178.2" stroke="#ec0f86" stroke-width="1.35" fill="none"/>
<path d="M610.75 179.7L616.35 179.7M613.55 176.9L613.55 182.5" stroke="#ec0f86" stroke-width="1.35" fill="none"/>
<path d="M634.76 183.6L640.36 183.6M637.56 180.8L637.56 186.4" stroke="#ec0f86" stroke-width="1.35" fill="none"/>
<path d="M658.78 185.4L664.38 185.4M661.58 182.6L661.58 188.2" stroke="#ec0f86" stroke-width="1.35" fill="none"/>
<path d="M682.8 184.1L688.4 184.1M685.6 181.3L685.6 186.9" stroke="#ec0f86" stroke-width="1.35" fill="none"/>
<rect x="421.5" y="25.5" width="277" height="230" fill="none" stroke="#000" stroke-width="1.05"/>
<path d="M421.4 255.2V249.2M421.4 25.5V31.5M474.24 255.2V249.2M474.24 25.5V31.5M527.08 255.2V249.2M527.08 25.5V31.5M579.92 255.2V249.2M579.92 25.5V31.5M632.76 255.2V249.2M632.76 25.5V31.5M685.6 255.2V249.2M685.6 25.5V31.5M421.4 255.2H427.4M698.8 255.2H692.8M421.4 209.26H427.4M698.8 209.26H692.8M421.4 163.32H427.4M698.8 163.32H692.8M421.4 117.38H427.4M698.8 117.38H692.8M421.4 71.44H427.4M698.8 71.44H692.8M421.4 25.5H427.4M698.8 25.5H692.8" stroke="#000" stroke-width="0.7" fill="none"/>
<text x="421.4" y="272" font-size="15.2" text-anchor="middle">0</text>
<text x="474.24" y="272" font-size="15.2" text-anchor="middle">0.2</text>
<text x="527.08" y="272" font-size="15.2" text-anchor="middle">0.4</text>
<text x="579.92" y="272" font-size="15.2" text-anchor="middle">0.6</text>
<text x="632.76" y="272" font-size="15.2" text-anchor="middle">0.8</text>
<text x="685.6" y="272" font-size="15.2" text-anchor="middle">1</text>
<text x="414.4" y="260.6" font-size="15.2" text-anchor="end">0</text>
<text x="414.4" y="214.66" font-size="15.2" text-anchor="end">0.2</text>
<text x="414.4" y="168.72" font-size="15.2" text-anchor="end">0.4</text>
<text x="414.4" y="122.78" font-size="15.2" text-anchor="end">0.6</text>
<text x="414.4" y="76.84" font-size="15.2" text-anchor="end">0.8</text>
<text x="414.4" y="30.9" font-size="15.2" text-anchor="end">1</text>
<text x="560.1" y="291.5" font-size="15.2" text-anchor="middle" font-style="italic">s</text>
<g transform="translate(379.2,153) rotate(-90)">
<text x="-0.2" y="0" font-size="16" font-style="italic">&#949;</text>
<text x="6.4" y="-6.8" font-size="11.5">3</text>
<text x="12.2" y="-5.6" font-size="13" textLength="7" lengthAdjust="spacingAndGlyphs">/</text>
<text x="19.6" y="-6.8" font-size="11.5">2</text>
<text x="7.9" y="5.1" font-size="10.3">eff</text>
</g>
<text x="544.3" y="10.5" font-size="15" font-style="italic" textLength="9.2" lengthAdjust="spacingAndGlyphs">n</text>
<text x="554.3" y="10.5" font-size="15" textLength="12.6" lengthAdjust="spacingAndGlyphs">=</text>
<text x="568.6" y="10.5" font-size="15" textLength="7.5" lengthAdjust="spacingAndGlyphs">3</text>
<rect x="486.5" y="30.5" width="206" height="83" fill="#fff" stroke="#000" stroke-width="1"/>
<path d="M494.2 40.5L496.1 43.3L494.2 46.1L492.3 43.3Z" fill="#fff" stroke="#e4000f" stroke-width="1.35"/>
<path d="M491.9 60.35L496.5 64.45M491.9 64.45L496.5 60.35" stroke="#0000e6" stroke-width="1.4" fill="none"/>
<circle cx="494.2" cy="81.3" r="2.9" fill="none" stroke="#000" stroke-width="1.15"/>
<path d="M491.4 100.4L497 100.4M494.2 97.6L494.2 103.2" stroke="#ec0f86" stroke-width="1.35" fill="none"/>
<text x="500.7" y="47" font-size="15.2" text-anchor="start">Analytical Formula</text>
<text x="500.7" y="65.9" font-size="15.2" text-anchor="start">NEO</text>
<text x="500.7" y="85.2" font-size="15.2" text-anchor="start">NEO-2 (Lorentz Model)</text>
<text x="500.7" y="104.2" font-size="15.2" text-anchor="start">NEO-2 (Full Collision Model)</text>
</svg>
</body></html>
